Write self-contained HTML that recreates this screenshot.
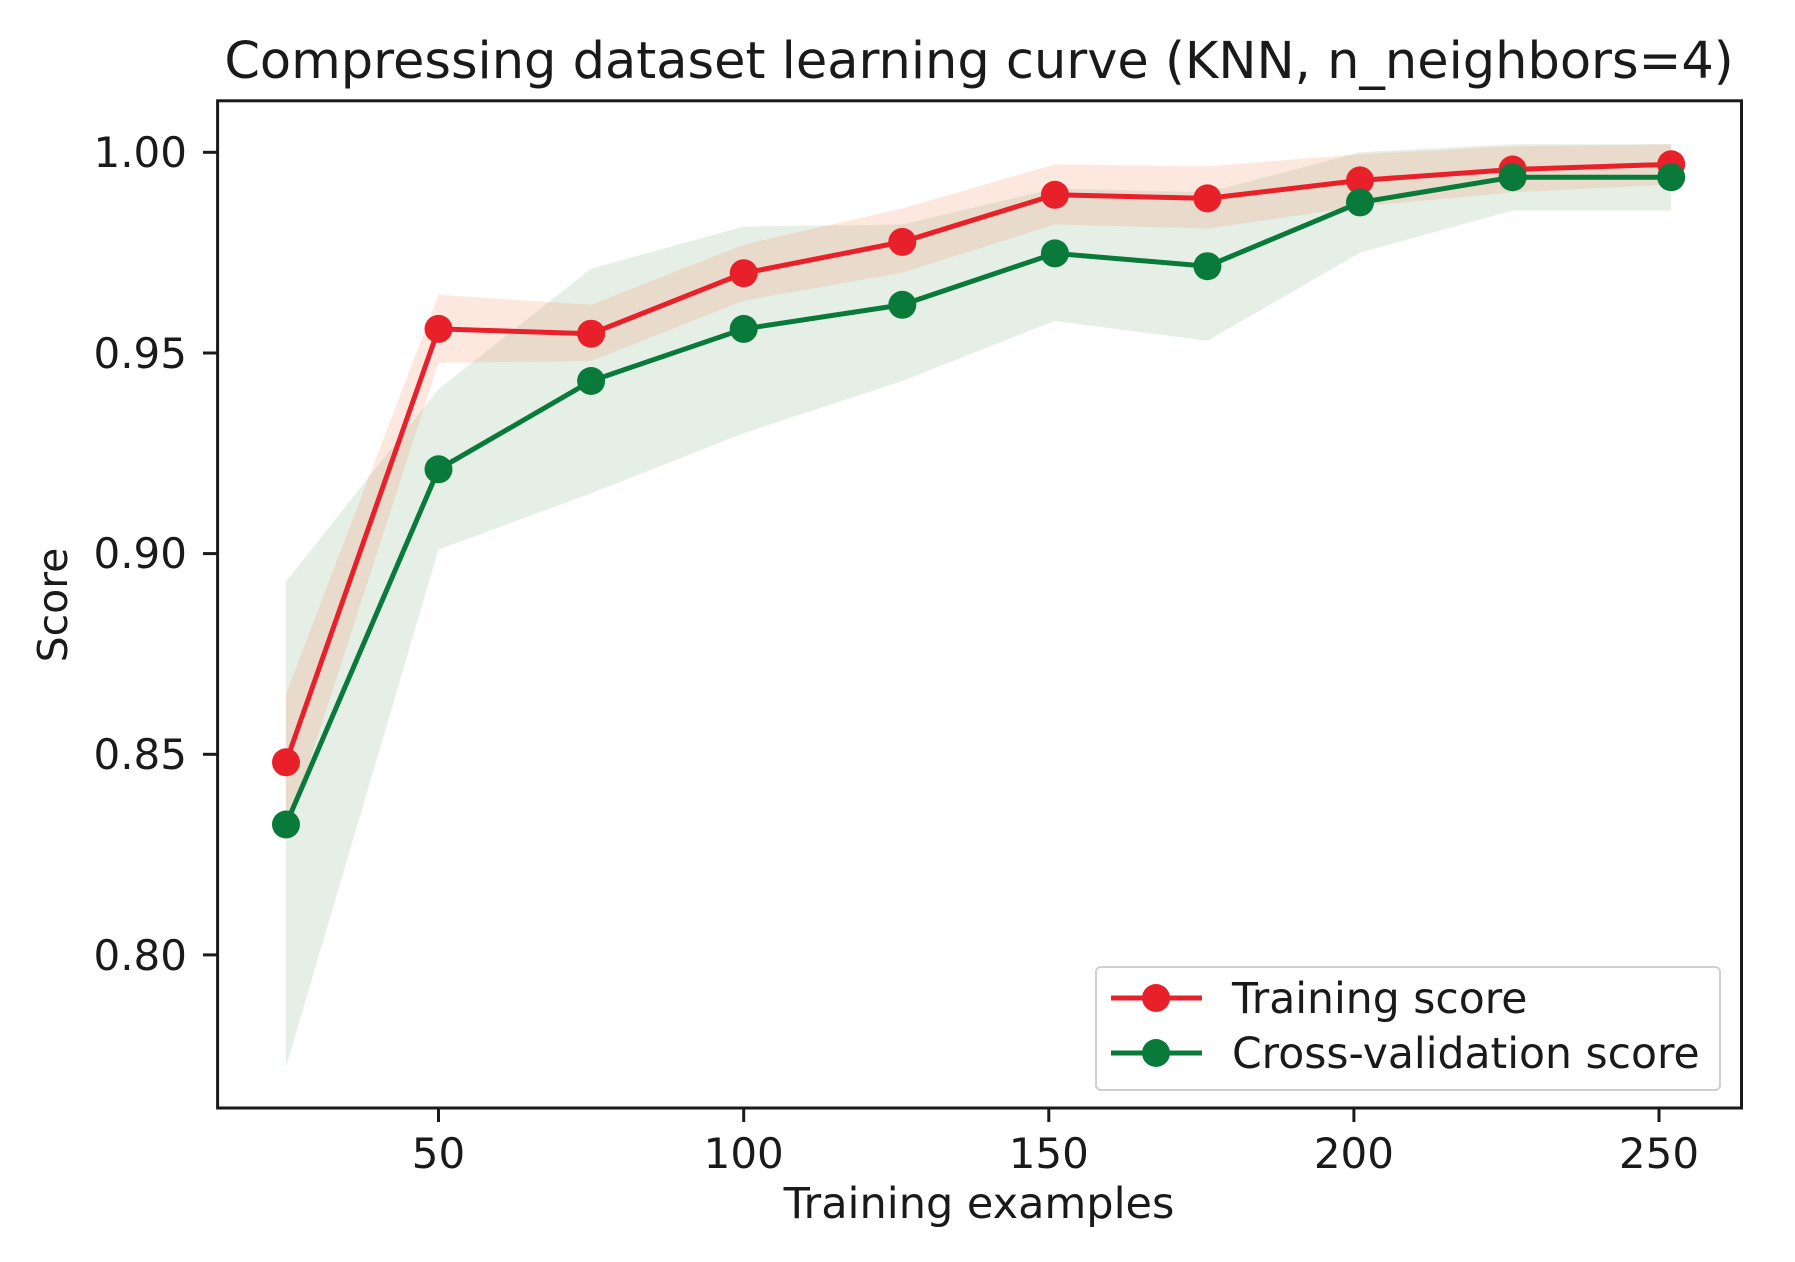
<!DOCTYPE html>
<html><head><style>body{margin:0;background:#fff}svg{display:block}text{font-family:"DejaVu Sans","Liberation Sans",sans-serif;fill:#1a1a1a}</style></head>
<body>
<svg width="1795" height="1262" viewBox="0 0 1795 1262" xmlns="http://www.w3.org/2000/svg">
<rect width="1795" height="1262" fill="#fff"/>
<g transform="matrix(6.1025 0 0 -4013 133.4 4165.3)">
<polygon fill="rgba(130,175,130,0.2)" points="25,0.893 50,0.941 75,0.971 100,0.9815 126,0.982 151,0.991 176,0.990 201,1.0 226,1.002 252,1.002 252,0.9855 226,0.9855 201,0.975 176,0.953 151,0.958 126,0.943 100,0.930 75,0.915 50,0.901 25,0.772"/>
<polygon fill="rgba(245,150,110,0.22)" points="25,0.865 50,0.9645 75,0.962 100,0.977 126,0.986 151,0.997 176,0.9965 201,0.9995 226,1.0015 252,1.002 252,0.992 226,0.990 201,0.9865 176,0.981 151,0.982 126,0.970 100,0.963 75,0.948 50,0.9475 25,0.83"/>
</g>
<polyline fill="none" stroke="#e8202a" stroke-width="5" points="286,762.3 438.5,328.9 591.1,333.7 743.7,273.2 902.3,241.9 1054.9,194.8 1207.4,198.4 1360,180.4 1512.6,169.5 1671.2,164.3"/>
<g fill="#e8202a"><circle cx="286" cy="762.3" r="14"/><circle cx="438.5" cy="328.9" r="14"/><circle cx="591.1" cy="333.7" r="14"/><circle cx="743.7" cy="273.2" r="14"/><circle cx="902.3" cy="241.9" r="14"/><circle cx="1054.9" cy="194.8" r="14"/><circle cx="1207.4" cy="198.4" r="14"/><circle cx="1360" cy="180.4" r="14"/><circle cx="1512.6" cy="169.5" r="14"/><circle cx="1671.2" cy="164.3" r="14"/></g>
<polyline fill="none" stroke="#0a7a3a" stroke-width="5" points="286,824.5 438.5,469.3 591.1,381 743.7,328.9 902.3,304.8 1054.9,253.4 1207.4,266.2 1360,202.4 1512.6,177.2 1671.2,177.2"/>
<g fill="#0a7a3a"><circle cx="286" cy="824.5" r="14"/><circle cx="438.5" cy="469.3" r="14"/><circle cx="591.1" cy="381" r="14"/><circle cx="743.7" cy="328.9" r="14"/><circle cx="902.3" cy="304.8" r="14"/><circle cx="1054.9" cy="253.4" r="14"/><circle cx="1207.4" cy="266.2" r="14"/><circle cx="1360" cy="202.4" r="14"/><circle cx="1512.6" cy="177.2" r="14"/><circle cx="1671.2" cy="177.2" r="14"/></g>
<rect x="217.6" y="100.8" width="1523.9" height="1007.2" fill="none" stroke="#1a1a1a" stroke-width="3"/>
<g stroke="#1a1a1a" stroke-width="3">
<line x1="438.5" y1="1108" x2="438.5" y2="1122"/><line x1="743.7" y1="1108" x2="743.7" y2="1122"/><line x1="1048.8" y1="1108" x2="1048.8" y2="1122"/><line x1="1353.9" y1="1108" x2="1353.9" y2="1122"/><line x1="1659" y1="1108" x2="1659" y2="1122"/>
<line x1="203" y1="152.3" x2="217.6" y2="152.3"/><line x1="203" y1="353" x2="217.6" y2="353"/><line x1="203" y1="553.6" x2="217.6" y2="553.6"/><line x1="203" y1="754.3" x2="217.6" y2="754.3"/><line x1="203" y1="954.9" x2="217.6" y2="954.9"/>
</g>
<g font-size="42" text-anchor="middle">
<text x="438.5" y="1168">50</text><text x="743.7" y="1168">100</text><text x="1048.8" y="1168">150</text><text x="1353.9" y="1168">200</text><text x="1659" y="1168">250</text>
</g>
<g font-size="42" text-anchor="end">
<text x="187" y="167">1.00</text><text x="187" y="368">0.95</text><text x="187" y="568">0.90</text><text x="187" y="769">0.85</text><text x="187" y="970">0.80</text>
</g>
<text x="979" y="1218" font-size="43" text-anchor="middle">Training examples</text>
<text transform="translate(67,605) rotate(-90)" font-size="41" text-anchor="middle">Score</text>
<text x="979" y="78" font-size="51" text-anchor="middle">Compressing dataset learning curve (KNN, n_neighbors=4)</text>
<rect x="1096" y="967" width="624" height="123" rx="5" fill="rgba(255,255,255,0.8)" stroke="#d0d0d0" stroke-width="2"/>
<line x1="1111" y1="998" x2="1202" y2="998" stroke="#e8202a" stroke-width="5"/><circle cx="1156" cy="998" r="14" fill="#e8202a"/>
<line x1="1111" y1="1053" x2="1202" y2="1053" stroke="#0a7a3a" stroke-width="5"/><circle cx="1156" cy="1053" r="14" fill="#0a7a3a"/>
<text x="1232" y="1013" font-size="42.5">Training score</text>
<text x="1232" y="1068" font-size="42.5">Cross-validation score</text>
</svg>
</body></html>
